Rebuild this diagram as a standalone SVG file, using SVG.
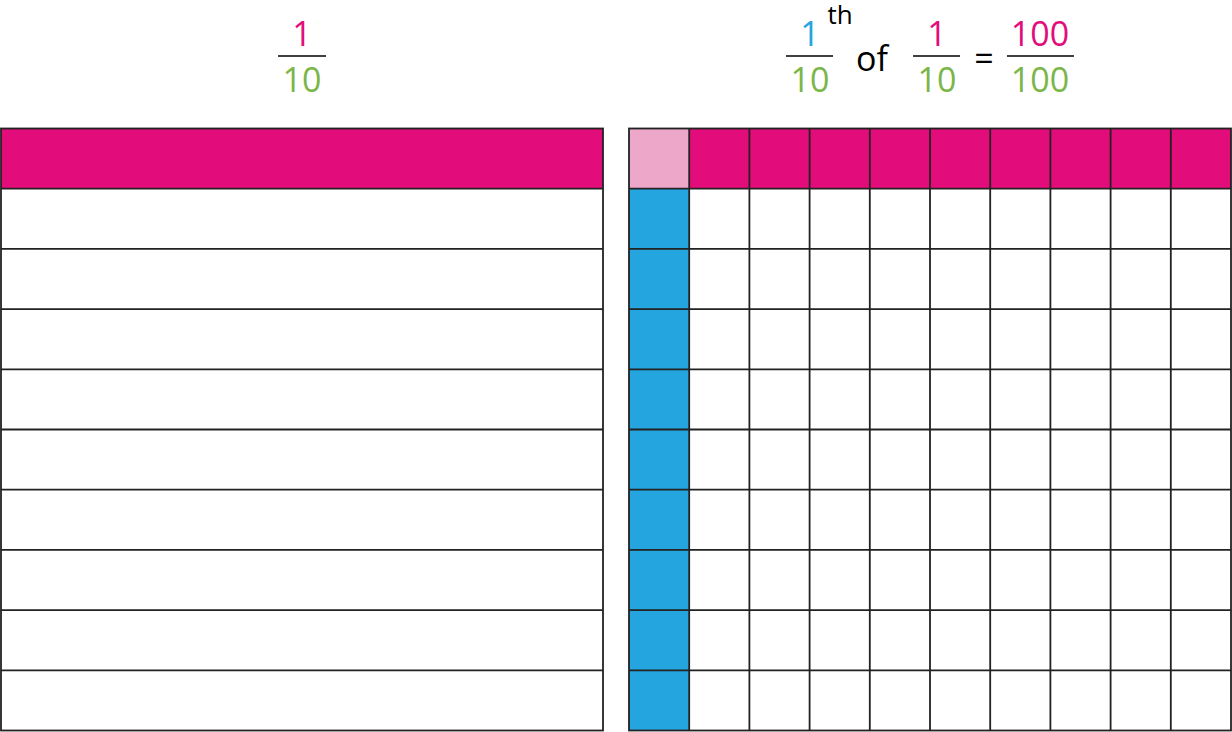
<svg xmlns="http://www.w3.org/2000/svg" width="1232" height="732" viewBox="0 0 1232 732">
<style>
.t{font-family:"Open Sans","Noto Sans","Liberation Sans",sans-serif;font-size:34px;text-anchor:middle}
.pk{fill:#E30C7B}.gr{fill:#7AB648}.bl{fill:#25A5DF}.bk{fill:#000}
.bar{stroke:#000;stroke-width:1.5}
.g{stroke:#222;stroke-width:1.8;fill:none}
</style>
<rect width="1232" height="732" fill="#fff"/>
<g id="label-left">
<text class="t pk" x="302" y="46">1</text>
<line class="bar" x1="278" y1="56" x2="326" y2="56"/>
<text class="t gr" x="302" y="92">10</text>
</g>
<g id="label-right">
<text class="t bl" x="810" y="46">1</text>
<line class="bar" x1="786" y1="56" x2="833" y2="56"/>
<text class="t gr" x="810" y="92">10</text>
<text class="t bk" x="840" y="24" style="font-size:26px">th</text>
<text class="t bk" x="872" y="71">of</text>
<text class="t pk" x="937" y="46">1</text>
<line class="bar" x1="913" y1="56" x2="960" y2="56"/>
<text class="t gr" x="937" y="92">10</text>
<text class="t bk" x="984" y="71">=</text>
<text class="t pk" x="1040" y="46">100</text>
<line class="bar" x1="1007" y1="56" x2="1074" y2="56"/>
<text class="t gr" x="1040" y="92">100</text>
</g>
<g id="left-grid">
<rect x="1" y="128.5" width="602" height="60.2" fill="#E30C7B"/>
<rect class="g" x="1" y="128.5" width="602" height="602"/>
<path class="g" d="M1 188.7H603M1 248.9H603M1 309.1H603M1 369.3H603M1 429.5H603M1 489.7H603M1 549.9H603M1 610.1H603M1 670.3H603"/>
</g>
<g id="right-grid">
<rect x="629" y="128.5" width="602" height="60.2" fill="#E30C7B"/>
<rect x="629" y="128.5" width="60.2" height="60.2" fill="#EDA8C9"/>
<rect x="629" y="188.7" width="60.2" height="541.8" fill="#25A5DF"/>
<rect class="g" x="629" y="128.5" width="602" height="602"/>
<path class="g" d="M629 188.7H1231M629 248.9H1231M629 309.1H1231M629 369.3H1231M629 429.5H1231M629 489.7H1231M629 549.9H1231M629 610.1H1231M629 670.3H1231"/>
<path class="g" d="M689.2 128.5V730.5M749.4 128.5V730.5M809.6 128.5V730.5M869.8 128.5V730.5M930 128.5V730.5M990.2 128.5V730.5M1050.4 128.5V730.5M1110.6 128.5V730.5M1170.8 128.5V730.5"/>
</g>
</svg>
